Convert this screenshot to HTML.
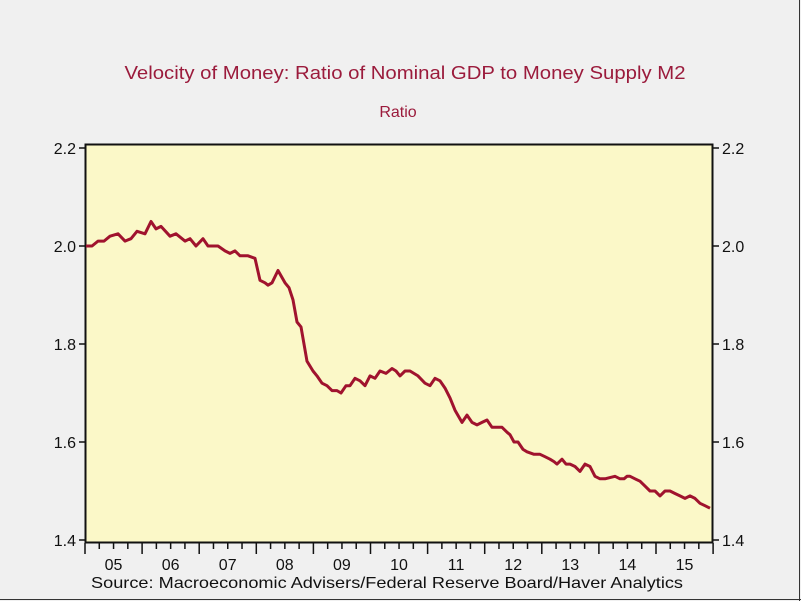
<!DOCTYPE html>
<html><head><meta charset="utf-8"><style>
body{margin:0;background:#f0f0f0;}
svg{display:block;font-family:"Liberation Sans",sans-serif;}
</style></head><body>
<svg id="s" width="801" height="601" viewBox="0 0 801 601">
<rect x="0" y="0" width="801" height="601" fill="#f0f0f0"/>
<line x1="0" y1="599.5" x2="801" y2="599.5" stroke="#333" stroke-width="1"/>
<line x1="799.5" y1="0" x2="799.5" y2="601" stroke="#333" stroke-width="1"/>
<text x="405" y="79" text-anchor="middle" font-size="18" fill="#9b1b3c" textLength="561" lengthAdjust="spacingAndGlyphs">Velocity of Money: Ratio of Nominal GDP to Money Supply M2</text>
<text x="398" y="117" text-anchor="middle" font-size="16" fill="#9b1b3c">Ratio</text>
<rect x="85.5" y="144.5" width="627" height="398" fill="#fbf8c8" stroke="#111" stroke-width="2"/>
<g id="g" stroke="#111" stroke-width="1.5"></g>
<g font-size="16" fill="#111">
<text x="76" y="154" text-anchor="end">2.2</text>
<text x="76" y="252" text-anchor="end">2.0</text>
<text x="76" y="350" text-anchor="end">1.8</text>
<text x="76" y="448" text-anchor="end">1.6</text>
<text x="76" y="546" text-anchor="end">1.4</text>
<text x="722" y="154">2.2</text>
<text x="722" y="252">2.0</text>
<text x="722" y="350">1.8</text>
<text x="722" y="448">1.6</text>
<text x="722" y="546">1.4</text>
</g>
<g id="yl" font-size="16" fill="#111" text-anchor="middle"></g>
<text x="91" y="588" font-size="16" fill="#111" textLength="592" lengthAdjust="spacingAndGlyphs">Source:  Macroeconomic Advisers/Federal Reserve Board/Haver Analytics</text>
<polyline id="p" fill="none" stroke="#a0132e" stroke-width="3" stroke-linejoin="round"/>
</svg>
<script>
var d=[86,2.0,92,2.0,98,2.01,104,2.01,110,2.02,118,2.025,125,2.01,131,2.015,137,2.03,145,2.025,151,2.05,156,2.035,161,2.04,170,2.02,176,2.025,185,2.01,190,2.015,196,2.0,203,2.015,208,2.0,218,2.0,225,1.99,230,1.985,235,1.99,240,1.98,248,1.98,255,1.975,260,1.93,265,1.925,268,1.92,272,1.925,278,1.95,285,1.925,289,1.915,293,1.89,297,1.845,301,1.835,307,1.765,313,1.745,317,1.735,322,1.72,327,1.715,332,1.705,337,1.705,341,1.70,346,1.715,350,1.715,355,1.73,360,1.725,365,1.715,370,1.735,375,1.73,380,1.745,386,1.74,392,1.75,396,1.745,400,1.735,405,1.745,410,1.745,418,1.735,425,1.72,430,1.715,435,1.73,440,1.725,445,1.71,450,1.69,455,1.665,462,1.64,467,1.655,472,1.64,477,1.635,482,1.64,487,1.645,492,1.63,497,1.63,502,1.63,507,1.62,510,1.615,514,1.60,518,1.60,523,1.585,527,1.58,534,1.575,540,1.575,545,1.57,550,1.565,554,1.56,557,1.555,562,1.565,566,1.555,570,1.555,575,1.55,580,1.54,585,1.555,590,1.55,595,1.53,600,1.525,605,1.525,615,1.53,620,1.525,624,1.525,627,1.53,630,1.53,635,1.525,640,1.52,645,1.51,650,1.50,655,1.50,660,1.49,665,1.50,670,1.50,675,1.495,680,1.49,685,1.485,690,1.49,695,1.485,700,1.475,705,1.47,710,1.465];
var pts=[];for(var i=0;i<d.length;i+=2){pts.push(d[i]+","+(148+(2.2-d[i+1])*490).toFixed(1));}
document.getElementById('p').setAttribute('points',pts.join(' '));
var g=document.getElementById('g'),h='';
[148,246,344,442,540].forEach(function(y){h+='<line x1="79" y1="'+y+'" x2="85" y2="'+y+'"/><line x1="713" y1="'+y+'" x2="719" y2="'+y+'"/>';});
var yl='';
for(var q=0;q<=44;q++){var x=85+q*57.1/4;if(q%4==0){h+='<line x1="'+x+'" y1="543" x2="'+x+'" y2="554"/>';}else{h+='<line x1="'+x+'" y1="543" x2="'+x+'" y2="549"/>';}}
g.innerHTML=h;
var labs=['05','06','07','08','09','10','11','12','13','14','15'];
for(var k=0;k<11;k++){yl+='<text x="'+(85+57.1*k+28.5)+'" y="570">'+labs[k]+'</text>';}
document.getElementById('yl').innerHTML=yl;
</script>
</body></html>
